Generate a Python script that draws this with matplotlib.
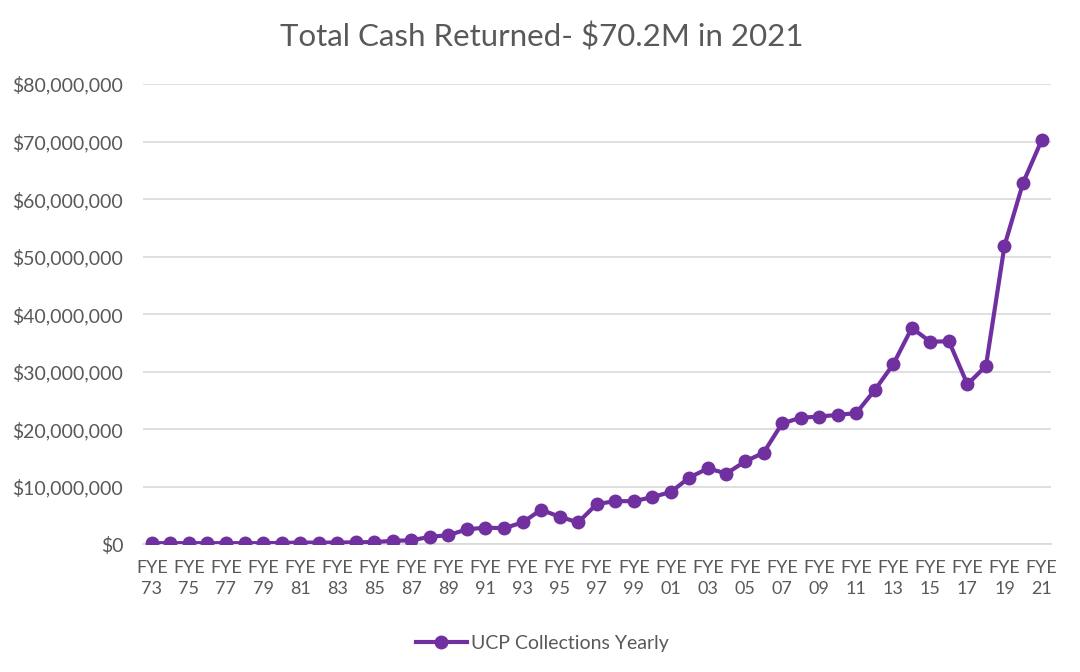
import matplotlib
matplotlib.use('Agg')

import matplotlib.pyplot as plt
import matplotlib.ticker as mticker

# FYE 1973 .. FYE 2021
years = [f'{y % 100:02d}' for y in range(1973, 2022)]
collections = [
    0.20, 0.20, 0.20, 0.20, 0.20, 0.20, 0.20, 0.25, 0.30, 0.30,   # 73-82
    0.30, 0.35, 0.40, 0.60, 0.70, 1.30, 1.60, 2.60, 2.90, 2.80,   # 83-92
    3.80, 6.00, 4.80, 3.80, 7.00, 7.50, 7.50, 8.20, 9.10, 11.60,  # 93-02
    13.20, 12.30, 14.40, 15.90, 21.00, 22.00, 22.20, 22.50, 22.80, 26.80,  # 03-12
    31.30, 37.60, 35.20, 35.30, 27.80, 31.00, 51.90, 62.80, 70.20,  # 13-21
]
collections = [v * 1e6 for v in collections]

PURPLE = '#7030A0'
TEXT = '#595959'
GRID = '#D9D9D9'

plt.rcParams['font.family'] = ['Lato', 'DejaVu Sans']

fig = plt.figure(figsize=(10.8, 6.72), dpi=100)
ax = fig.add_axes([0.132, 0.190, 0.841, 0.685])

x = list(range(len(years)))
ax.plot(x, collections, color=PURPLE, linewidth=3.0, marker='o',
        markersize=9, label='UCP Collections Yearly', zorder=3)

ax.set_xlim(-0.5, len(years) - 0.5)
ax.set_ylim(0, 80e6)
ax.yaxis.set_major_locator(mticker.MultipleLocator(10e6))
ax.yaxis.set_major_formatter(mticker.FuncFormatter(lambda v, p: f'${v:,.0f}'))

ax.set_xticks(x[::2])
ax.set_xticklabels([f'FYE\n{y}' for y in years[::2]])

ax.yaxis.grid(True, color=GRID, linewidth=1.2)
ax.set_axisbelow(True)
for side in ['top', 'right', 'left']:
    ax.spines[side].set_visible(False)
ax.spines['bottom'].set_color(GRID)
ax.spines['bottom'].set_linewidth(1.2)
ax.tick_params(length=0, colors=TEXT)
ax.tick_params(axis='x', pad=11, labelsize=13)
ax.tick_params(axis='y', pad=14, labelsize=14)
for lab in ax.get_xticklabels():
    lab.set_linespacing(1.45)

fig.suptitle('Total Cash Returned- $70.2M in 2021', x=0.502, y=0.967,
             fontsize=22.5, color=TEXT)

ax.legend(loc='center', bbox_to_anchor=(0.502, 0.043), bbox_transform=fig.transFigure,
          frameon=False, fontsize=14, labelcolor=TEXT, handlelength=2.6,
          handletextpad=0.2)

fig.savefig('out.png', facecolor='white')
